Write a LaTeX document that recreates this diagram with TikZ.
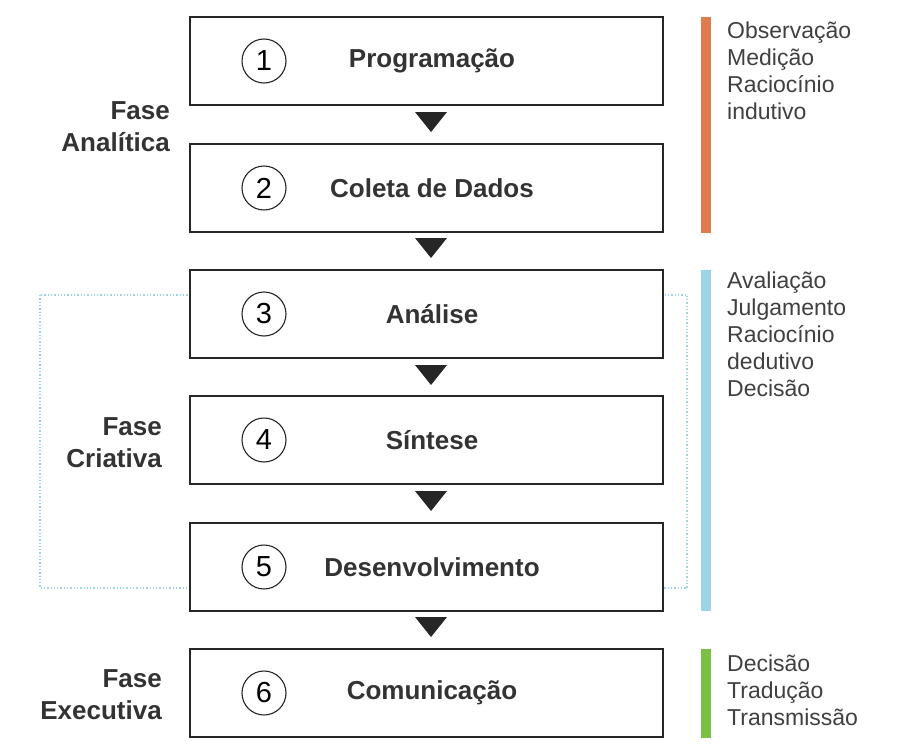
\documentclass[tikz,border=0pt]{standalone}
\usepackage{fontspec}
\setmainfont{Liberation Sans}
\definecolor{org}{HTML}{E07B50}
\definecolor{blu}{HTML}{9CD4E6}
\definecolor{grn}{HTML}{7AC143}
\begin{document}
\begin{tikzpicture}[x=1pt,y=-1pt,
 box/.style={draw=black!85,line width=1.3pt,fill=white,minimum width=473pt,minimum height=88pt,inner sep=0pt},
 num/.style={draw=black!85,circle,line width=1.1pt,minimum size=44pt,inner sep=0pt,font=\fontsize{29}{29}\selectfont},
 lab/.style={font=\fontsize{26}{28}\selectfont\bfseries,text=black!80},
 side/.style={font=\fontsize{23}{27}\selectfont,text=black!75,align=left,anchor=north west,inner sep=0pt},
 fase/.style={font=\fontsize{26}{32}\selectfont\bfseries,text=black!80,align=right,anchor=east,inner sep=0pt},
 tri/.style={fill=black!85,draw=none}]
\useasboundingbox (0,0) rectangle (900,752);
\draw[blu,dotted,line width=1.3pt] (40,295) rectangle (687,588);
\foreach \i/\y/\t in {1/61/Programação,2/188/Coleta de Dados,3/314/Análise,4/440/Síntese,5/567/Desenvolvimento,6/693/Comunicação}{
 \node[box] (b\i) at (426.5,\y) {};
 \node[num] (n\i) at (264,\y) {\i};
 \node[lab] (t\i) at (432,\y) {\t};
}
\foreach \y in {112,238,365,491,617}{
 \fill[tri] (415,\y) -- (447,\y) -- (431,\y+20) -- cycle;
}
\fill[org] (701,17) rectangle (711,233);
\fill[blu] (701,270) rectangle (711,611);
\fill[grn] (701,649) rectangle (711,738);
\node[side] (s1) at (727,22) {Observação\\Medição\\Raciocínio\\indutivo};
\node[side] (s2) at (727,272) {Avaliação\\Julgamento\\Raciocínio\\dedutivo\\Decisão};
\node[side] (s3) at (727,655) {Decisão\\Tradução\\Transmissão};
\node[fase] (f1) at (170,127) {Fase\\Analítica};
\node[fase] (f2) at (162,443) {Fase\\Criativa};
\node[fase] (f3) at (162,695) {Fase\\Executiva};
\end{tikzpicture}
\end{document}
